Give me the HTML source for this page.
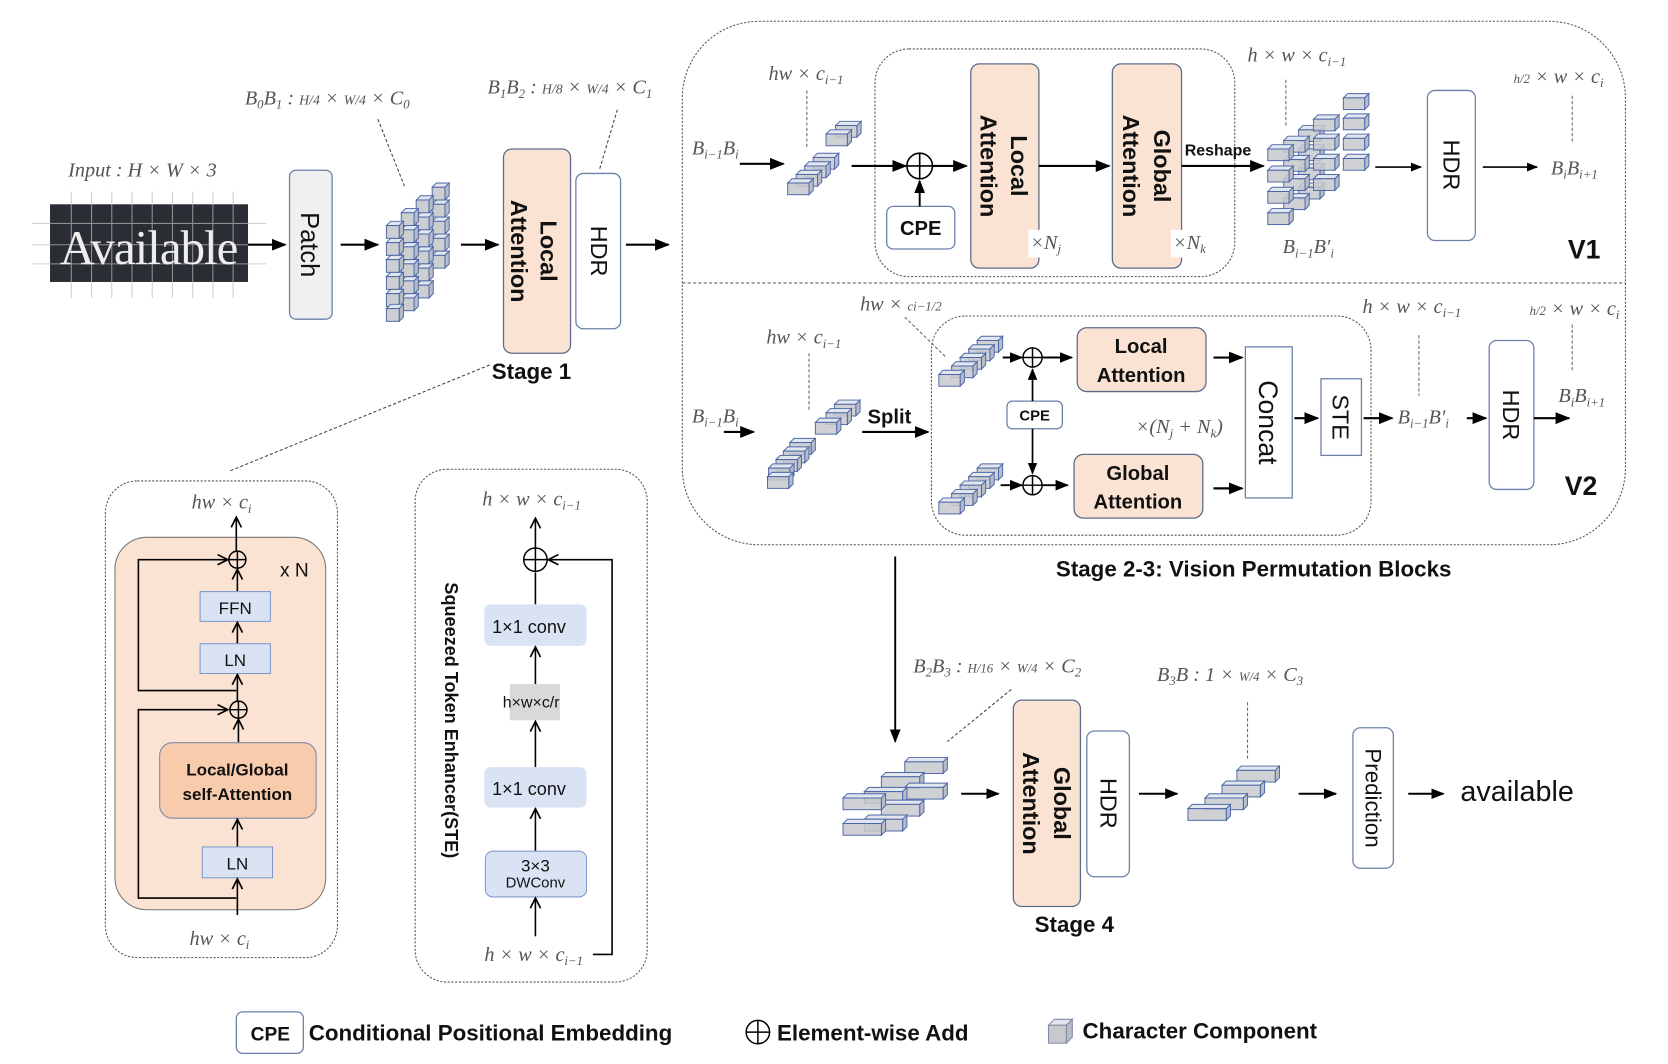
<!DOCTYPE html>
<html><head><meta charset="utf-8"><style>
html,body{margin:0;padding:0;background:#fff;}
svg{display:block;}
.m{font-family:"Liberation Serif",serif;font-style:italic;fill:#555;font-size:19px;}
.b{font-family:"Liberation Sans",sans-serif;font-weight:bold;fill:#111;}
.s{font-family:"Liberation Sans",sans-serif;fill:#111;}
.sub{font-size:12px;}
</style></head><body>
<svg width="1668" height="1064" viewBox="0 0 1567 1000" preserveAspectRatio="none" xmlns="http://www.w3.org/2000/svg">
<defs>
<marker id="a" viewBox="0 0 10 10" refX="9" refY="5" markerWidth="7" markerHeight="7" orient="auto"><path d="M0,1 L10,5 L0,9 z" fill="#000"/></marker>
<marker id="o" viewBox="0 0 10 10" refX="9" refY="5" markerWidth="8" markerHeight="8" orient="auto"><path d="M1,1 L9,5 L1,9" fill="none" stroke="#000" stroke-width="1.3"/></marker>
<g id="c"><path d="M0,4 L4,0 L16,0 L12,4 z" fill="#e2e6ee" stroke="#4a66a8" stroke-width="0.9"/><path d="M12,4 L16,0 L16,12 L12,16 z" fill="#b8bcc6" stroke="#4a66a8" stroke-width="0.9"/><rect x="0" y="4" width="12" height="12" fill="#c8c9cc" fill-opacity="0.9" stroke="#4a66a8" stroke-width="0.9"/></g>
<g id="w"><path d="M0,4 L4,0 L24,0 L20,4 z" fill="#e2e6ee" stroke="#4a66a8" stroke-width="0.9"/><path d="M20,4 L24,0 L24,11 L20,15 z" fill="#b8bcc6" stroke="#4a66a8" stroke-width="0.9"/><rect x="0" y="4" width="20" height="11" fill="#c8c9cc" fill-opacity="0.85" stroke="#4a66a8" stroke-width="0.9"/></g>
<g id="L"><path d="M0,4 L4,0 L40,0 L36,4 z" fill="#e2e6ee" stroke="#4a66a8" stroke-width="0.9"/><path d="M36,4 L40,0 L40,11 L36,15 z" fill="#b8bcc6" stroke="#4a66a8" stroke-width="0.9"/><rect x="0" y="4" width="36" height="11" fill="#c8c9cc" fill-opacity="0.85" stroke="#4a66a8" stroke-width="0.9"/></g>
</defs>

<!-- ===== Stage 1 ===== -->
<text class="m" x="64" y="166">Input : H × W × 3</text>
<rect x="47" y="192" width="186" height="73" fill="#2a2d33"/>
<g stroke="#bbb" stroke-width="1" opacity="0.7">
<line x1="30" y1="210" x2="250" y2="210"/><line x1="30" y1="230" x2="250" y2="230"/><line x1="30" y1="248" x2="250" y2="248"/>
<line x1="67" y1="180" x2="67" y2="280"/><line x1="86" y1="180" x2="86" y2="280"/><line x1="105" y1="180" x2="105" y2="280"/><line x1="124" y1="180" x2="124" y2="280"/><line x1="143" y1="180" x2="143" y2="280"/><line x1="162" y1="180" x2="162" y2="280"/><line x1="181" y1="180" x2="181" y2="280"/><line x1="200" y1="180" x2="200" y2="280"/><line x1="219" y1="180" x2="219" y2="280"/>
</g>
<text x="56" y="248" font-family="Liberation Serif,serif" font-size="46" fill="#eee" textLength="168">Available</text>
<line x1="233" y1="230" x2="268" y2="230" stroke="#000" stroke-width="2" marker-end="url(#a)"/>
<rect x="272" y="160" width="40" height="140" rx="6" fill="#f0f0f0" stroke="#6a80a8" stroke-width="1.2"/>
<text class="s" font-size="24" transform="translate(283,230) rotate(90)" text-anchor="middle">Patch</text>
<line x1="320" y1="230" x2="355" y2="230" stroke="#000" stroke-width="2" marker-end="url(#a)"/>
<text class="m" x="230" y="98">B<tspan class="sub" dy="4">0</tspan><tspan dy="-4">B</tspan><tspan class="sub" dy="4">1</tspan><tspan dy="-4"> : </tspan><tspan font-size="13">H/4</tspan> × <tspan font-size="13">W/4</tspan> × C<tspan class="sub" dy="4">0</tspan></text>
<line x1="355" y1="112" x2="380" y2="175" stroke="#444" stroke-dasharray="3,2"/>
<g>
<use href="#c" x="406" y="172"/><use href="#c" x="406" y="188"/><use href="#c" x="406" y="204"/><use href="#c" x="406" y="220"/><use href="#c" x="406" y="236"/>
<use href="#c" x="391" y="184"/><use href="#c" x="391" y="200"/><use href="#c" x="391" y="216"/><use href="#c" x="391" y="232"/><use href="#c" x="391" y="248"/><use href="#c" x="391" y="264"/>
<use href="#c" x="377" y="196"/><use href="#c" x="377" y="212"/><use href="#c" x="377" y="228"/><use href="#c" x="377" y="244"/><use href="#c" x="377" y="260"/><use href="#c" x="377" y="276"/>
<use href="#c" x="363" y="208"/><use href="#c" x="363" y="224"/><use href="#c" x="363" y="240"/><use href="#c" x="363" y="256"/><use href="#c" x="363" y="272"/><use href="#c" x="363" y="286"/>
</g>
<line x1="433" y1="230" x2="468" y2="230" stroke="#000" stroke-width="2" marker-end="url(#a)"/>
<rect x="473" y="140" width="63" height="192" rx="8" fill="#fbe3d3" stroke="#5b6b8a" stroke-width="1.2"/>
<text class="b" font-size="22" transform="translate(508,236) rotate(90)" text-anchor="middle">Local</text>
<text class="b" font-size="22" transform="translate(480,236) rotate(90)" text-anchor="middle">Attention</text>
<rect x="541" y="163" width="42" height="146" rx="7" fill="#fff" stroke="#6a80a8" stroke-width="1.2"/>
<text class="s" font-size="22" transform="translate(555,236) rotate(90)" text-anchor="middle">HDR</text>
<text class="m" x="458" y="88">B<tspan class="sub" dy="4">1</tspan><tspan dy="-4">B</tspan><tspan class="sub" dy="4">2</tspan><tspan dy="-4"> : </tspan><tspan font-size="13">H/8</tspan> × <tspan font-size="13">W/4</tspan> × C<tspan class="sub" dy="4">1</tspan></text>
<line x1="580" y1="103" x2="563" y2="160" stroke="#444" stroke-dasharray="3,2"/>
<line x1="588" y1="230" x2="628" y2="230" stroke="#000" stroke-width="2" marker-end="url(#a)"/>
<text class="b" x="462" y="356" font-size="21">Stage 1</text>
<line x1="460" y1="343" x2="215" y2="443" stroke="#444" stroke-dasharray="3,2"/>

<!-- ===== Stage 2-3 ===== -->
<rect x="641" y="20" width="886" height="492" rx="72" fill="none" stroke="#555" stroke-dasharray="2,1.5"/>
<line x1="641" y1="266" x2="1527" y2="266" stroke="#555" stroke-dasharray="3,2"/>
<!-- V1 -->
<text class="m" x="722" y="75">hw × c<tspan class="sub" dy="4">i−1</tspan></text>
<line x1="758" y1="85" x2="758" y2="140" stroke="#666" stroke-dasharray="3,2"/>
<text class="m" x="650" y="145">B<tspan class="sub" dy="4">i−1</tspan><tspan dy="-4">B</tspan><tspan class="sub" dy="4">i</tspan></text>
<line x1="695" y1="154" x2="736" y2="154" stroke="#000" stroke-width="2" marker-end="url(#a)"/>
<use href="#w" x="785" y="114"/><use href="#w" x="776" y="122"/>
<use href="#w" x="764" y="144"/><use href="#w" x="756" y="152"/><use href="#w" x="748" y="160"/><use href="#w" x="740" y="168"/>
<rect x="822" y="46" width="338" height="214" rx="32" fill="none" stroke="#555" stroke-dasharray="2,1.5"/>
<line x1="800" y1="156" x2="851" y2="156" stroke="#000" stroke-width="2" marker-end="url(#a)"/>
<circle cx="864" cy="156" r="12" fill="#fff" stroke="#000" stroke-width="1.5"/>
<path d="M852,156 H876 M864,144 V168" stroke="#000" stroke-width="1.5"/>
<line x1="876" y1="156" x2="908" y2="156" stroke="#000" stroke-width="2" marker-end="url(#a)"/>
<rect x="833" y="194" width="64" height="40" rx="6" fill="#fff" stroke="#6a80a8" stroke-width="1.2"/>
<text class="b" x="865" y="221" font-size="19" text-anchor="middle">CPE</text>
<line x1="864" y1="194" x2="864" y2="170" stroke="#000" stroke-width="1.8" marker-end="url(#a)"/>
<rect x="912" y="60" width="64" height="192" rx="8" fill="#fbe3d3" stroke="#5b6b8a" stroke-width="1.2"/>
<text class="b" font-size="22" transform="translate(950,156) rotate(90)" text-anchor="middle">Local</text>
<text class="b" font-size="22" transform="translate(921,156) rotate(90)" text-anchor="middle">Attention</text>
<rect x="966" y="216" width="36" height="26" fill="#fff"/>
<text class="m" x="968" y="234">×N<tspan class="sub" dy="4">j</tspan></text>
<line x1="976" y1="156" x2="1042" y2="156" stroke="#000" stroke-width="2" marker-end="url(#a)"/>
<rect x="1045" y="60" width="65" height="192" rx="8" fill="#fbe3d3" stroke="#5b6b8a" stroke-width="1.2"/>
<text class="b" font-size="22" transform="translate(1084,156) rotate(90)" text-anchor="middle">Global</text>
<text class="b" font-size="22" transform="translate(1055,156) rotate(90)" text-anchor="middle">Attention</text>
<rect x="1100" y="216" width="40" height="26" fill="#fff"/>
<text class="m" x="1102" y="234">×N<tspan class="sub" dy="4">k</tspan></text>
<text class="b" x="1113" y="146" font-size="15">Reshape</text>
<line x1="1110" y1="156" x2="1187" y2="156" stroke="#000" stroke-width="2" marker-end="url(#a)"/>
<text class="m" x="1172" y="58">h × w × c<tspan class="sub" dy="4">i−1</tspan></text>
<line x1="1208" y1="75" x2="1208" y2="120" stroke="#666" stroke-dasharray="3,2"/>
<g>
<use href="#w" x="1262" y="88"/><use href="#w" x="1262" y="107"/><use href="#w" x="1262" y="126"/><use href="#w" x="1262" y="145"/>
<use href="#w" x="1220" y="118"/><use href="#w" x="1220" y="136"/><use href="#w" x="1220" y="154"/><use href="#w" x="1220" y="172"/>
<use href="#w" x="1234" y="108"/><use href="#w" x="1234" y="126"/><use href="#w" x="1234" y="145"/><use href="#w" x="1234" y="164"/>
<use href="#w" x="1206" y="128"/><use href="#w" x="1206" y="146"/><use href="#w" x="1206" y="164"/><use href="#w" x="1206" y="182"/>
<use href="#w" x="1191" y="136"/><use href="#w" x="1191" y="156"/><use href="#w" x="1191" y="176"/><use href="#w" x="1191" y="196"/>
</g>
<text class="m" x="1205" y="238">B<tspan class="sub" dy="4">i−1</tspan><tspan dy="-4">B′</tspan><tspan class="sub" dy="4">i</tspan></text>
<line x1="1292" y1="157" x2="1335" y2="157" stroke="#000" stroke-width="1.5" marker-end="url(#a)"/>
<rect x="1341" y="85" width="45" height="141" rx="7" fill="#fff" stroke="#6a80a8" stroke-width="1.2"/>
<text class="s" font-size="22" transform="translate(1356,155) rotate(90)" text-anchor="middle">HDR</text>
<line x1="1393" y1="157" x2="1444" y2="157" stroke="#000" stroke-width="1.5" marker-end="url(#a)"/>
<text class="m" x="1457" y="164">B<tspan class="sub" dy="4">i</tspan><tspan dy="-4">B</tspan><tspan class="sub" dy="4">i+1</tspan></text>
<text class="m" x="1422" y="78"><tspan font-size="12">h/2</tspan> × w × c<tspan class="sub" dy="4">i</tspan></text>
<line x1="1477" y1="90" x2="1477" y2="135" stroke="#666" stroke-dasharray="3,2"/>
<text class="b" x="1473" y="243" font-size="25">V1</text>
<!-- V2 -->
<text class="m" x="808" y="292">hw × <tspan font-size="12">c<tspan class="sub" font-size="9">i−1</tspan>/2</tspan></text>
<line x1="850" y1="298" x2="888" y2="335" stroke="#666" stroke-dasharray="3,2"/>
<text class="m" x="720" y="323">hw × c<tspan class="sub" dy="4">i−1</tspan></text>
<line x1="760" y1="332" x2="760" y2="385" stroke="#666" stroke-dasharray="3,2"/>
<text class="m" x="650" y="397">B<tspan class="sub" dy="4">i−1</tspan><tspan dy="-4">B</tspan><tspan class="sub" dy="4">i</tspan></text>
<line x1="680" y1="406" x2="708" y2="406" stroke="#000" stroke-width="2" marker-end="url(#a)"/>
<use href="#w" x="784" y="376"/><use href="#w" x="776" y="384"/><use href="#w" x="766" y="393"/>
<use href="#w" x="742" y="412"/><use href="#w" x="736" y="420"/><use href="#w" x="729" y="428"/><use href="#w" x="722" y="436"/><use href="#w" x="721" y="444"/>
<text class="b" x="815" y="398" font-size="19">Split</text>
<line x1="810" y1="406" x2="872" y2="406" stroke="#000" stroke-width="2" marker-end="url(#a)"/>
<rect x="875" y="297" width="413" height="206" rx="32" fill="none" stroke="#555" stroke-dasharray="2,1.5"/>
<use href="#w" x="918" y="316"/><use href="#w" x="910" y="324"/><use href="#w" x="902" y="332"/><use href="#w" x="894" y="340"/><use href="#w" x="882" y="348"/>
<use href="#w" x="918" y="436"/><use href="#w" x="910" y="444"/><use href="#w" x="902" y="452"/><use href="#w" x="894" y="460"/><use href="#w" x="882" y="468"/>
<line x1="942" y1="336" x2="960" y2="336" stroke="#000" stroke-width="1.8" marker-end="url(#a)"/>
<circle cx="970" cy="336" r="9" fill="#fff" stroke="#000" stroke-width="1.4"/>
<path d="M961,336 H979 M970,327 V345" stroke="#000" stroke-width="1.4"/>
<line x1="979" y1="336" x2="1007" y2="336" stroke="#000" stroke-width="1.8" marker-end="url(#a)"/>
<rect x="946" y="377" width="52" height="26" rx="5" fill="#fff" stroke="#6a80a8" stroke-width="1.2"/>
<text class="b" x="972" y="395" font-size="14" text-anchor="middle">CPE</text>
<line x1="970" y1="377" x2="970" y2="347" stroke="#000" stroke-width="1.6" marker-end="url(#a)"/>
<line x1="970" y1="403" x2="970" y2="445" stroke="#000" stroke-width="1.6" marker-end="url(#a)"/>
<line x1="940" y1="456" x2="960" y2="456" stroke="#000" stroke-width="1.8" marker-end="url(#a)"/>
<circle cx="970" cy="456" r="9" fill="#fff" stroke="#000" stroke-width="1.4"/>
<path d="M961,456 H979 M970,447 V465" stroke="#000" stroke-width="1.4"/>
<line x1="979" y1="456" x2="1003" y2="456" stroke="#000" stroke-width="1.8" marker-end="url(#a)"/>
<rect x="1012" y="308" width="121" height="60" rx="9" fill="#fbe3d3" stroke="#5b6b8a" stroke-width="1.2"/>
<text class="b" x="1072" y="332" font-size="19" text-anchor="middle">Local</text>
<text class="b" x="1072" y="359" font-size="19" text-anchor="middle">Attention</text>
<rect x="1009" y="427" width="121" height="60" rx="9" fill="#fbe3d3" stroke="#5b6b8a" stroke-width="1.2"/>
<text class="b" x="1069" y="451" font-size="19" text-anchor="middle">Global</text>
<text class="b" x="1069" y="478" font-size="19" text-anchor="middle">Attention</text>
<text class="m" x="1067" y="407">×(N<tspan class="sub" dy="4">j</tspan><tspan dy="-4"> + N</tspan><tspan class="sub" dy="4">k</tspan><tspan dy="-4">)</tspan></text>
<line x1="1140" y1="336" x2="1167" y2="336" stroke="#000" stroke-width="2" marker-end="url(#a)"/>
<line x1="1140" y1="459" x2="1167" y2="459" stroke="#000" stroke-width="2" marker-end="url(#a)"/>
<rect x="1170" y="326" width="44" height="142" fill="#fff" stroke="#6a80a8" stroke-width="1.2"/>
<text class="s" font-size="25" transform="translate(1183,397) rotate(90)" text-anchor="middle">Concat</text>
<line x1="1216" y1="393" x2="1238" y2="393" stroke="#000" stroke-width="2" marker-end="url(#a)"/>
<rect x="1241" y="356" width="38" height="72" fill="#fff" stroke="#6a80a8" stroke-width="1.2"/>
<text class="s" font-size="22" transform="translate(1252,392) rotate(90)" text-anchor="middle">STE</text>
<line x1="1281" y1="393" x2="1308" y2="393" stroke="#000" stroke-width="2" marker-end="url(#a)"/>
<text class="m" x="1313" y="398">B<tspan class="sub" dy="4">i−1</tspan><tspan dy="-4">B′</tspan><tspan class="sub" dy="4">i</tspan></text>
<line x1="1378" y1="393" x2="1396" y2="393" stroke="#000" stroke-width="2" marker-end="url(#a)"/>
<rect x="1399" y="320" width="42" height="140" rx="7" fill="#fff" stroke="#6a80a8" stroke-width="1.2"/>
<text class="s" font-size="22" transform="translate(1412,390) rotate(90)" text-anchor="middle">HDR</text>
<line x1="1441" y1="393" x2="1474" y2="393" stroke="#000" stroke-width="2" marker-end="url(#a)"/>
<text class="m" x="1464" y="378">B<tspan class="sub" dy="4">i</tspan><tspan dy="-4">B</tspan><tspan class="sub" dy="4">i+1</tspan></text>
<text class="m" x="1280" y="294">h × w × c<tspan class="sub" dy="4">i−1</tspan></text>
<line x1="1333" y1="315" x2="1333" y2="372" stroke="#666" stroke-dasharray="3,2"/>
<text class="m" x="1437" y="296"><tspan font-size="12">h/2</tspan> × w × c<tspan class="sub" dy="4">i</tspan></text>
<line x1="1477" y1="305" x2="1477" y2="350" stroke="#666" stroke-dasharray="3,2"/>
<text class="b" x="1470" y="465" font-size="25">V2</text>
<text class="b" x="992" y="542" font-size="21">Stage 2-3: Vision Permutation Blocks</text>

<!-- ===== Stage 4 ===== -->
<line x1="841" y1="523" x2="841" y2="697" stroke="#000" stroke-width="1.8" marker-end="url(#a)"/>
<text class="m" x="858" y="632">B<tspan class="sub" dy="4">2</tspan><tspan dy="-4">B</tspan><tspan class="sub" dy="4">3</tspan><tspan dy="-4"> : </tspan><tspan font-size="12">H/16</tspan> × <tspan font-size="12">W/4</tspan> × C<tspan class="sub" dy="4">2</tspan></text>
<line x1="950" y1="648" x2="890" y2="697" stroke="#444" stroke-dasharray="3,2"/>
<use href="#L" x="850" y="712"/><use href="#L" x="828" y="726"/><use href="#L" x="850" y="736"/><use href="#L" x="812" y="740"/>
<use href="#L" x="828" y="752"/><use href="#L" x="792" y="746"/><use href="#L" x="812" y="766"/><use href="#L" x="792" y="770"/>
<line x1="903" y1="746" x2="938" y2="746" stroke="#000" stroke-width="1.8" marker-end="url(#a)"/>
<rect x="952" y="658" width="63" height="194" rx="8" fill="#fbe3d3" stroke="#5b6b8a" stroke-width="1.2"/>
<text class="b" font-size="22" transform="translate(990,755) rotate(90)" text-anchor="middle">Global</text>
<text class="b" font-size="22" transform="translate(961,755) rotate(90)" text-anchor="middle">Attention</text>
<rect x="1021" y="687" width="40" height="137" rx="7" fill="#fff" stroke="#6a80a8" stroke-width="1.2"/>
<text class="s" font-size="22" transform="translate(1034,755) rotate(90)" text-anchor="middle">HDR</text>
<line x1="1070" y1="746" x2="1106" y2="746" stroke="#000" stroke-width="1.8" marker-end="url(#a)"/>
<text class="m" x="1087" y="640">B<tspan class="sub" dy="4">3</tspan><tspan dy="-4">B : 1 × </tspan><tspan font-size="12">W/4</tspan> × C<tspan class="sub" dy="4">3</tspan></text>
<line x1="1172" y1="660" x2="1172" y2="715" stroke="#666" stroke-dasharray="3,2"/>
<use href="#L" x="1162" y="720"/><use href="#L" x="1148" y="734"/><use href="#L" x="1132" y="746"/><use href="#L" x="1116" y="756"/>
<line x1="1220" y1="746" x2="1255" y2="746" stroke="#000" stroke-width="1.8" marker-end="url(#a)"/>
<rect x="1271" y="684" width="38" height="132" rx="7" fill="#fff" stroke="#6a80a8" stroke-width="1.2"/>
<text class="s" font-size="21" transform="translate(1283,750) rotate(90)" text-anchor="middle">Prediction</text>
<line x1="1323" y1="746" x2="1356" y2="746" stroke="#000" stroke-width="1.8" marker-end="url(#a)"/>
<text class="s" x="1372" y="753" font-size="27">available</text>
<text class="b" x="972" y="876" font-size="21">Stage 4</text>

<!-- ===== Transformer block ===== -->
<rect x="99" y="452" width="218" height="448" rx="30" fill="none" stroke="#555" stroke-dasharray="2,1.5"/>
<text class="m" x="180" y="478" font-size="21">hw × c<tspan class="sub" dy="4">i</tspan></text>
<rect x="108" y="505" width="198" height="350" rx="30" fill="#fbe3d3" stroke="#777" stroke-width="1"/>
<line x1="222" y1="518" x2="222" y2="486" stroke="#000" stroke-width="1.5" marker-end="url(#o)"/>
<circle cx="223" cy="526" r="8" fill="none" stroke="#000" stroke-width="1.4"/>
<path d="M215,526 H231 M223,518 V534" stroke="#000" stroke-width="1.4"/>
<text class="s" x="263" y="542" font-size="18">x N</text>
<polyline points="222,649 130,649 130,526 214,526" fill="none" stroke="#000" stroke-width="1.5" marker-end="url(#o)"/>
<polyline points="222,844 130,844 130,667 214,667" fill="none" stroke="#000" stroke-width="1.5" marker-end="url(#o)"/>
<line x1="223" y1="556" x2="223" y2="535" stroke="#000" stroke-width="1.5" marker-end="url(#o)"/>
<rect x="188" y="556" width="66" height="28" fill="#dae3f3" stroke="#7f9acb"/>
<text class="s" x="221" y="577" font-size="16" text-anchor="middle">FFN</text>
<line x1="223" y1="605" x2="223" y2="585" stroke="#000" stroke-width="1.5" marker-end="url(#o)"/>
<rect x="188" y="605" width="66" height="28" fill="#dae3f3" stroke="#7f9acb"/>
<text class="s" x="221" y="626" font-size="16" text-anchor="middle">LN</text>
<line x1="223" y1="659" x2="223" y2="634" stroke="#000" stroke-width="1.5" marker-end="url(#o)"/>
<circle cx="224" cy="667" r="8" fill="none" stroke="#000" stroke-width="1.4"/>
<path d="M216,667 H232 M224,659 V675" stroke="#000" stroke-width="1.4"/>
<line x1="224" y1="698" x2="224" y2="676" stroke="#000" stroke-width="1.5" marker-end="url(#o)"/>
<rect x="150" y="698" width="147" height="71" rx="12" fill="#f8cbad" stroke="#7f8aa8"/>
<text class="b" x="223" y="729" font-size="16" text-anchor="middle">Local/Global</text>
<text class="b" x="223" y="752" font-size="16" text-anchor="middle">self-Attention</text>
<line x1="223" y1="796" x2="223" y2="770" stroke="#000" stroke-width="1.5" marker-end="url(#o)"/>
<rect x="190" y="796" width="66" height="29" fill="#dae3f3" stroke="#7f9acb"/>
<text class="s" x="223" y="817" font-size="16" text-anchor="middle">LN</text>
<line x1="223" y1="860" x2="223" y2="826" stroke="#000" stroke-width="1.5" marker-end="url(#o)"/>
<text class="m" x="178" y="888" font-size="21">hw × c<tspan class="sub" dy="4">i</tspan></text>

<!-- ===== STE ===== -->
<rect x="390" y="441" width="218" height="482" rx="30" fill="none" stroke="#555" stroke-dasharray="2,1.5"/>
<text class="m" x="453" y="475">h × w × c<tspan class="sub" dy="4">i−1</tspan></text>
<line x1="503" y1="515" x2="503" y2="487" stroke="#000" stroke-width="1.5" marker-end="url(#o)"/>
<circle cx="503" cy="526" r="11" fill="none" stroke="#000" stroke-width="1.4"/>
<path d="M492,526 H514 M503,515 V537" stroke="#000" stroke-width="1.4"/>
<polyline points="557,897 575,897 575,526 515,526" fill="none" stroke="#000" stroke-width="1.5" marker-end="url(#o)"/>
<text class="b" font-size="17" transform="translate(418,677) rotate(90)" text-anchor="middle">Squeezed Token Enhancer(STE)</text>
<line x1="503" y1="568" x2="503" y2="538" stroke="#000" stroke-width="1.5"/>
<rect x="455" y="568" width="96" height="39" rx="6" fill="#dae3f3"/>
<text class="s" x="497" y="595" font-size="17" text-anchor="middle">1×1 conv</text>
<line x1="503" y1="643" x2="503" y2="608" stroke="#000" stroke-width="1.5" marker-end="url(#o)"/>
<rect x="479" y="643" width="47" height="34" fill="#d9d9d9"/>
<text class="s" x="499" y="665" font-size="15" text-anchor="middle">h×w×c/r</text>
<line x1="503" y1="721" x2="503" y2="678" stroke="#000" stroke-width="1.5" marker-end="url(#o)"/>
<rect x="455" y="721" width="96" height="38" rx="6" fill="#dae3f3"/>
<text class="s" x="497" y="747" font-size="17" text-anchor="middle">1×1 conv</text>
<line x1="503" y1="800" x2="503" y2="760" stroke="#000" stroke-width="1.5" marker-end="url(#o)"/>
<rect x="456" y="800" width="95" height="43" rx="7" fill="#dae3f3" stroke="#7f9acb"/>
<text class="s" x="503" y="819" font-size="16" text-anchor="middle">3×3</text>
<text class="s" x="503" y="834" font-size="14" text-anchor="middle">DWConv</text>
<line x1="503" y1="880" x2="503" y2="844" stroke="#000" stroke-width="1.5" marker-end="url(#o)"/>
<text class="m" x="455" y="903">h × w × c<tspan class="sub" dy="4">i−1</tspan></text>

<!-- ===== Legend ===== -->
<rect x="222" y="951" width="63" height="39" rx="6" fill="#fff" stroke="#6a80a8" stroke-width="1.2"/>
<text class="b" x="254" y="978" font-size="18" text-anchor="middle">CPE</text>
<text class="b" x="290" y="978" font-size="21">Conditional Positional Embedding</text>
<circle cx="712" cy="970" r="11" fill="none" stroke="#000" stroke-width="1.4"/>
<path d="M701,970 H723 M712,959 V981" stroke="#000" stroke-width="1.4"/>
<text class="b" x="730" y="978" font-size="21">Element-wise Add</text>
<g transform="translate(985,958) scale(1.4)"><path d="M0,4 L4,0 L16,0 L12,4 z" fill="#e2e6ee" stroke="#7f8aa8" stroke-width="0.7"/><path d="M12,4 L16,0 L16,12 L12,16 z" fill="#b8bcc6" stroke="#7f8aa8" stroke-width="0.7"/><rect x="0" y="4" width="12" height="12" fill="#c8c9cc" stroke="#7f8aa8" stroke-width="0.7"/></g>
<text class="b" x="1017" y="976" font-size="21">Character Component</text>
</svg>
</body></html>
